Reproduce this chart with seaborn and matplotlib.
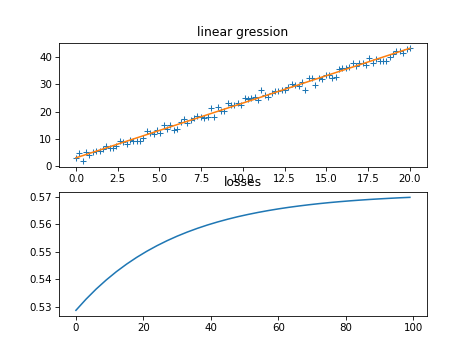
import numpy as np
import matplotlib
matplotlib.use("Agg")
import matplotlib.pyplot as plt
import seaborn as sns

# ---- data ----
n_points = 100
x_start, x_end = 0.0, 20.0
y_obs = [3.0, 5.0, 1.9, 5.1, 4.3, 5.3, 5.5, 5.6, 6.5, 7.4,
         6.7, 6.6, 7.5, 9.2, 8.9, 8.1, 9.8, 9.1, 9.4, 9.3,
         10.5, 12.9, 12.1, 12.0, 13.2, 12.1, 15.0, 13.7, 15.2, 13.4,
         13.6, 16.3, 17.3, 16.0, 17.1, 17.6, 18.5, 18.2, 17.8, 17.9,
         21.5, 18.0, 21.8, 20.1, 20.2, 23.1, 22.4, 22.4, 23.3, 22.4,
         25.1, 24.5, 25.0, 25.3, 24.1, 28.0, 25.9, 25.5, 26.8, 27.6,
         27.6, 27.9, 27.8, 29.0, 30.1, 29.7, 29.5, 30.9, 27.8, 32.1,
         32.2, 29.7, 32.4, 31.9, 33.4, 33.5, 32.2, 32.7, 35.6, 35.8,
         36.1, 36.3, 37.8, 36.7, 37.8, 37.7, 37.2, 39.4, 37.7, 39.1,
         38.4, 38.4, 38.6, 39.9, 41.1, 42.2, 42.2, 41.4, 43.0, 43.1]

loss_epochs = [0, 3, 6, 9, 12, 15, 18, 21, 24, 27, 30, 33, 36, 39, 42, 45, 48,
               51, 54, 57, 60, 63, 66, 69, 72, 75, 78, 81, 84, 87, 90, 93, 96, 99]
loss_values = [0.52870, 0.53275, 0.53642, 0.53973, 0.54274, 0.54545, 0.54791,
               0.55013, 0.55214, 0.55396, 0.55561, 0.55710, 0.55845, 0.55967,
               0.56077, 0.56177, 0.56268, 0.56349, 0.56423, 0.56490, 0.56551,
               0.56606, 0.56655, 0.56700, 0.56741, 0.56778, 0.56811, 0.56841,
               0.56868, 0.56893, 0.56915, 0.56935, 0.56954, 0.56970]

title_top = "linear gression"
title_bottom = "losses"

# ---- derived ----
x_obs = np.linspace(x_start, x_end, n_points)
y_arr = np.array(y_obs)
w, b = np.polyfit(x_obs, y_arr, 1)
y_fit = w * x_obs + b

dpi = 74
fig = plt.figure(figsize=(474 / dpi, 355 / dpi), dpi=dpi)

ax1 = fig.add_subplot(211)
sns.scatterplot(x=x_obs, y=y_arr, marker="+", s=40, linewidth=1.0,
                color="C0", ax=ax1)
sns.lineplot(x=x_obs, y=y_fit, color="C1", linewidth=1.5, ax=ax1)
ax1.set_title(title_top)
ax1.set_xlabel("")
ax1.set_ylabel("")

ax2 = fig.add_subplot(212)
sns.lineplot(x=loss_epochs, y=loss_values, color="C0", linewidth=1.5, ax=ax2)
ax2.set_title(title_bottom)
ax2.set_xlabel("")
ax2.set_ylabel("")

fig.savefig("out.png", dpi=dpi)
